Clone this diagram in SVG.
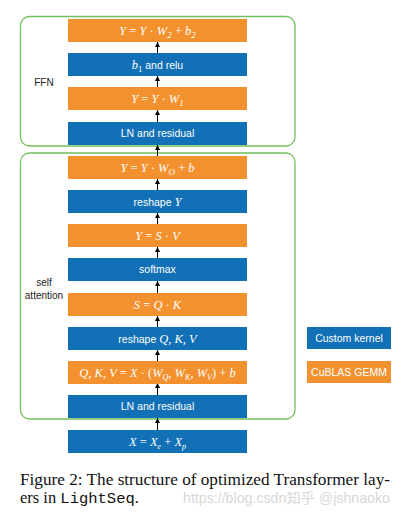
<svg xmlns="http://www.w3.org/2000/svg" width="401" height="512" viewBox="0 0 401 512">
<defs>
<style>
.b{fill:#1170b6}
.o{fill:#f3912f}
.grp{fill:none;stroke:#72c05e;stroke-width:1.3}
.t{font-family:"Liberation Sans",Arial,sans-serif;font-size:10.5px;fill:#fff;text-anchor:middle}
.m{font-family:"Liberation Serif","Times New Roman",serif;font-size:12.5px;font-style:italic;fill:#fff;text-anchor:middle}
.r{font-style:normal}
.lbl{font-family:"Liberation Sans",Arial,sans-serif;font-size:10px;fill:#222;text-anchor:middle}
.cap{font-family:"Liberation Serif","Times New Roman",serif;font-size:16.5px;fill:#111}
.mono{font-family:"Liberation Mono","Courier New",monospace}
.wm{font-family:"Liberation Sans",Arial,"Noto Sans CJK SC",sans-serif;font-size:14px;fill:#cfcfcf;opacity:0.8}
.c{stroke:#000;stroke-width:1;fill:none;marker-end:url(#ah)}
</style>
<marker id="ah" markerWidth="6" markerHeight="6" refX="5" refY="3" orient="auto" markerUnits="userSpaceOnUse">
<path d="M0,0.5 L5,3 L0,5.5 Z" fill="#000"/>
</marker>
</defs>
<rect width="401" height="512" fill="#fff"/>

<g id="group-ffn">
<rect class="grp" x="20.5" y="16.5" width="274.5" height="129.5" rx="9"/>
<text class="lbl" x="44" y="86">FFN</text>
</g>
<g id="group-attn">
<rect class="grp" x="20.5" y="153" width="274.5" height="266" rx="9"/>
<text class="lbl" x="44" y="286">self</text>
<text class="lbl" x="44" y="299">attention</text>
</g>

<g id="connectors">
<line class="c" x1="157.5" y1="430" x2="157.5" y2="418"/>
<line class="c" x1="157.5" y1="395" x2="157.5" y2="383"/>
<line class="c" x1="157.5" y1="361" x2="157.5" y2="350"/>
<line class="c" x1="157.5" y1="327" x2="157.5" y2="316"/>
<line class="c" x1="157.5" y1="293" x2="157.5" y2="281"/>
<line class="c" x1="157.5" y1="258" x2="157.5" y2="247"/>
<line class="c" x1="157.5" y1="224" x2="157.5" y2="213"/>
<line class="c" x1="157.5" y1="190" x2="157.5" y2="179"/>
<line class="c" x1="157.5" y1="156" x2="157.5" y2="145"/>
<line class="c" x1="157.5" y1="122" x2="157.5" y2="110"/>
<line class="c" x1="157.5" y1="87" x2="157.5" y2="76"/>
<line class="c" x1="157.5" y1="53" x2="157.5" y2="42"/>
</g>

<g id="n-ffn2">
<rect class="o" x="68" y="19" width="179" height="23"/>
<text class="m" x="157.5" y="35">Y <tspan class="r">=</tspan> Y <tspan class="r">·</tspan> W<tspan font-size="9" dy="3">2</tspan><tspan dy="-3"> </tspan><tspan class="r">+</tspan> b<tspan font-size="9" dy="3">2</tspan></text>
</g>
<g id="n-relu">
<rect class="b" x="68" y="53" width="179" height="23"/>
<text class="t" x="157.5" y="68.5"><tspan class="m" font-size="12.5">b</tspan><tspan font-family="Liberation Serif,serif" font-size="8.5" dy="3">1</tspan><tspan dy="-3"> and relu</tspan></text>
</g>
<g id="n-ffn1">
<rect class="o" x="68" y="87" width="179" height="23"/>
<text class="m" x="157.5" y="103">Y <tspan class="r">=</tspan> Y <tspan class="r">·</tspan> W<tspan font-size="9" dy="3">1</tspan></text>
</g>
<g id="n-ln2">
<rect class="b" x="68" y="122" width="179" height="23"/>
<text class="t" x="157.5" y="137">LN and residual</text>
</g>
<g id="n-out">
<rect class="o" x="68" y="156" width="179" height="23"/>
<text class="m" x="157.5" y="172">Y <tspan class="r">=</tspan> Y <tspan class="r">·</tspan> W<tspan font-size="9" dy="3">O</tspan><tspan dy="-3"> </tspan><tspan class="r">+</tspan> b</text>
</g>
<g id="n-reshapeY">
<rect class="b" x="68" y="190" width="179" height="23"/>
<text class="t" x="157.5" y="205.5">reshape <tspan class="m" font-size="12.5">Y</tspan></text>
</g>
<g id="n-sv">
<rect class="o" x="68" y="224" width="179" height="23"/>
<text class="m" x="157.5" y="240">Y <tspan class="r">=</tspan> S <tspan class="r">·</tspan> V</text>
</g>
<g id="n-softmax">
<rect class="b" x="68" y="258" width="179" height="23"/>
<text class="t" x="157.5" y="273">softmax</text>
</g>
<g id="n-qk">
<rect class="o" x="68" y="293" width="179" height="23"/>
<text class="m" x="157.5" y="309">S <tspan class="r">=</tspan> Q <tspan class="r">·</tspan> K</text>
</g>
<g id="n-reshapeQKV">
<rect class="b" x="68" y="327" width="179" height="23"/>
<text class="t" x="157.5" y="342.5">reshape <tspan class="m" font-size="12.5">Q, K, V</tspan></text>
</g>
<g id="n-qkv">
<rect class="o" x="68" y="361" width="179" height="23"/>
<text class="m" x="157.5" y="377">Q, K, V <tspan class="r">=</tspan> X <tspan class="r">· (</tspan>W<tspan font-size="8" dy="3">Q</tspan><tspan dy="-3">, W</tspan><tspan font-size="8" dy="3">K</tspan><tspan dy="-3">, W</tspan><tspan font-size="8" dy="3">V</tspan><tspan dy="-3" class="r">) + </tspan>b</text>
</g>
<g id="n-ln1">
<rect class="b" x="68" y="395" width="179" height="23"/>
<text class="t" x="157.5" y="410">LN and residual</text>
</g>
<g id="n-input">
<rect class="b" x="68" y="430" width="179" height="23"/>
<text class="m" x="157.5" y="446">X <tspan class="r">=</tspan> X<tspan font-size="8" dy="3">e</tspan><tspan dy="-3"> </tspan><tspan class="r">+</tspan> X<tspan font-size="8" dy="3">p</tspan></text>
</g>

<g id="legend-custom">
<rect class="b" x="307" y="327" width="84" height="22"/>
<text class="t" x="349" y="342">Custom kernel</text>
</g>
<g id="legend-cublas">
<rect class="o" x="307" y="361" width="84" height="22"/>
<text class="t" x="349" y="376">CuBLAS GEMM</text>
</g>

<text class="cap" x="20" y="485" textLength="370" lengthAdjust="spacingAndGlyphs">Figure 2: The structure of optimized Transformer lay-</text>
<text class="cap" x="20" y="503">ers in <tspan class="mono" font-size="15.5">LightSeq</tspan>.</text>
<text class="wm" x="183" y="503" textLength="207" lengthAdjust="spacingAndGlyphs">https://blog.csdn知乎 @jshnaoko</text>
</svg>
